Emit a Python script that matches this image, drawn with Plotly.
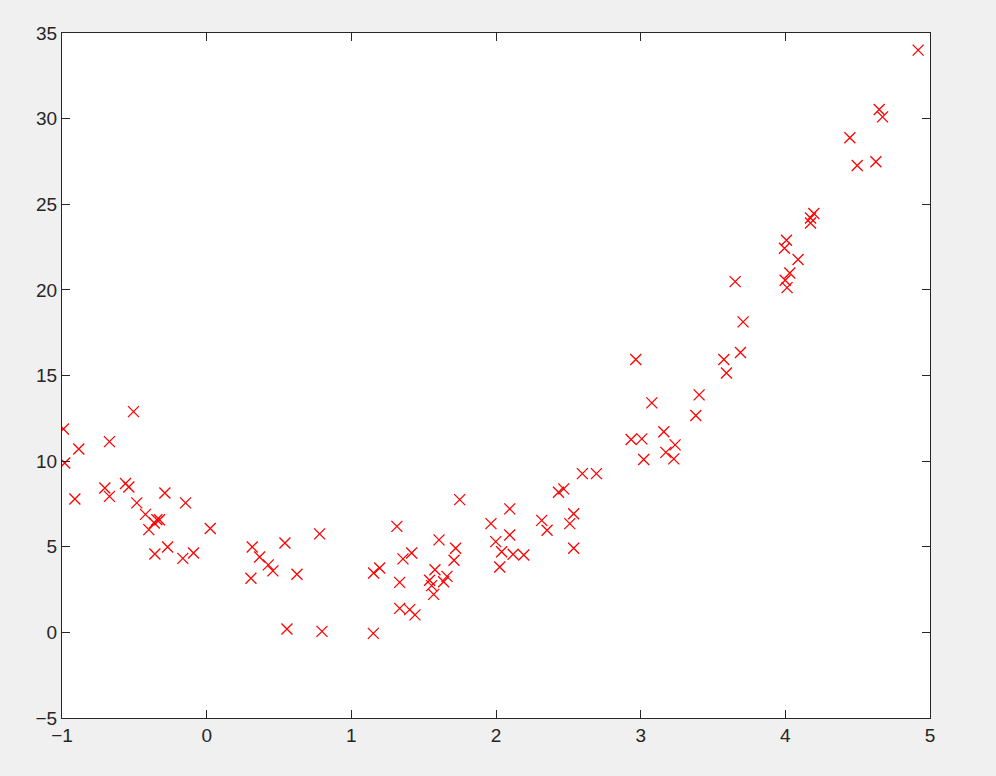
import plotly.graph_objects as go

# data points
x = [-0.990, -0.981, -0.884, -0.911, -0.672, -0.506, -0.704, -0.672, -0.561, -0.538,
     -0.483, -0.423, -0.344, -0.326, -0.362, -0.400, -0.289, -0.146, -0.358, -0.270,
     -0.165, -0.091, 0.025,
     0.315, 0.366, 0.426, 0.458, 0.306, 0.541, 0.624, 0.781, 0.555, 0.797,
     1.152, 1.154, 1.196, 1.315, 1.334, 1.357, 1.417, 1.334, 1.403, 1.440,
     1.606, 1.578, 1.541, 1.555, 1.569, 1.638, 1.661, 1.721, 1.710, 1.749,
     1.965, 2.095, 1.998, 2.095, 2.039, 2.118, 2.026, 2.192,
     2.316, 2.353, 2.537, 2.510, 2.537, 2.432, 2.468, 2.597, 2.694,
     2.966, 2.934, 3.008, 3.021, 3.077, 3.160, 3.174, 3.229, 3.238,
     3.381, 3.404, 3.575, 3.593, 3.653, 3.708, 3.690,
     3.994, 4.008, 4.088, 4.031, 3.999, 4.012, 4.174, 4.174, 4.197,
     4.446, 4.497, 4.626, 4.649, 4.672, 4.918]
y = [11.88, 9.89, 10.71, 7.79, 11.14, 12.89, 8.43, 7.94, 8.69, 8.49,
     7.56, 6.89, 6.58, 6.58, 6.39, 6.00, 8.14, 7.56, 4.58, 4.99,
     4.32, 4.64, 6.07,
     4.99, 4.40, 3.94, 3.59, 3.16, 5.22, 3.39, 5.75, 0.20, 0.06,
     -0.06, 3.47, 3.76, 6.19, 2.92, 4.29, 4.64, 1.40, 1.33, 1.02,
     5.40, 3.66, 3.04, 2.73, 2.22, 2.96, 3.27, 4.91, 4.21, 7.75,
     6.35, 7.21, 5.30, 5.69, 4.71, 4.56, 3.82, 4.52,
     6.54, 5.96, 6.93, 6.35, 4.91, 8.18, 8.38, 9.27, 9.27,
     15.93, 11.26, 11.30, 10.09, 13.40, 11.72, 10.51, 10.13, 10.95,
     12.66, 13.87, 15.93, 15.15, 20.48, 18.13, 16.34,
     22.43, 22.90, 21.77, 20.99, 20.56, 20.13, 23.91, 24.20, 24.46,
     28.88, 27.26, 27.48, 30.53, 30.10, 34.00]

fig = go.Figure(go.Scatter(x=x, y=y, mode="markers", hoverinfo="skip",
                           marker=dict(symbol="x-thin", size=11, color="#ff0000",
                                       line=dict(width=1.3, color="#ff0000")),
                           showlegend=False))

axis_style = dict(showgrid=False, zeroline=False, showline=True, linecolor="#262626",
                  linewidth=1, mirror="ticks", ticks="inside", ticklen=8,
                  tickcolor="#262626", tickfont=dict(size=19, color="#262626"))

fig.update_xaxes(range=[-1, 5], dtick=1, **axis_style)
fig.update_yaxes(range=[-5, 35], dtick=5, **axis_style)

fig.update_layout(width=996, height=776,
                  margin=dict(l=62, r=66, t=33, b=58),
                  paper_bgcolor="#f0f0f0", plot_bgcolor="#ffffff",
                  font=dict(family="Liberation Sans, Arial, sans-serif"))

# drop the browser's default body margin so the figure fills the window
fig.write_html("out.html", config={"displayModeBar": False},
               post_script="document.body.style.margin='0';"
                           "document.body.style.overflow='hidden';")
